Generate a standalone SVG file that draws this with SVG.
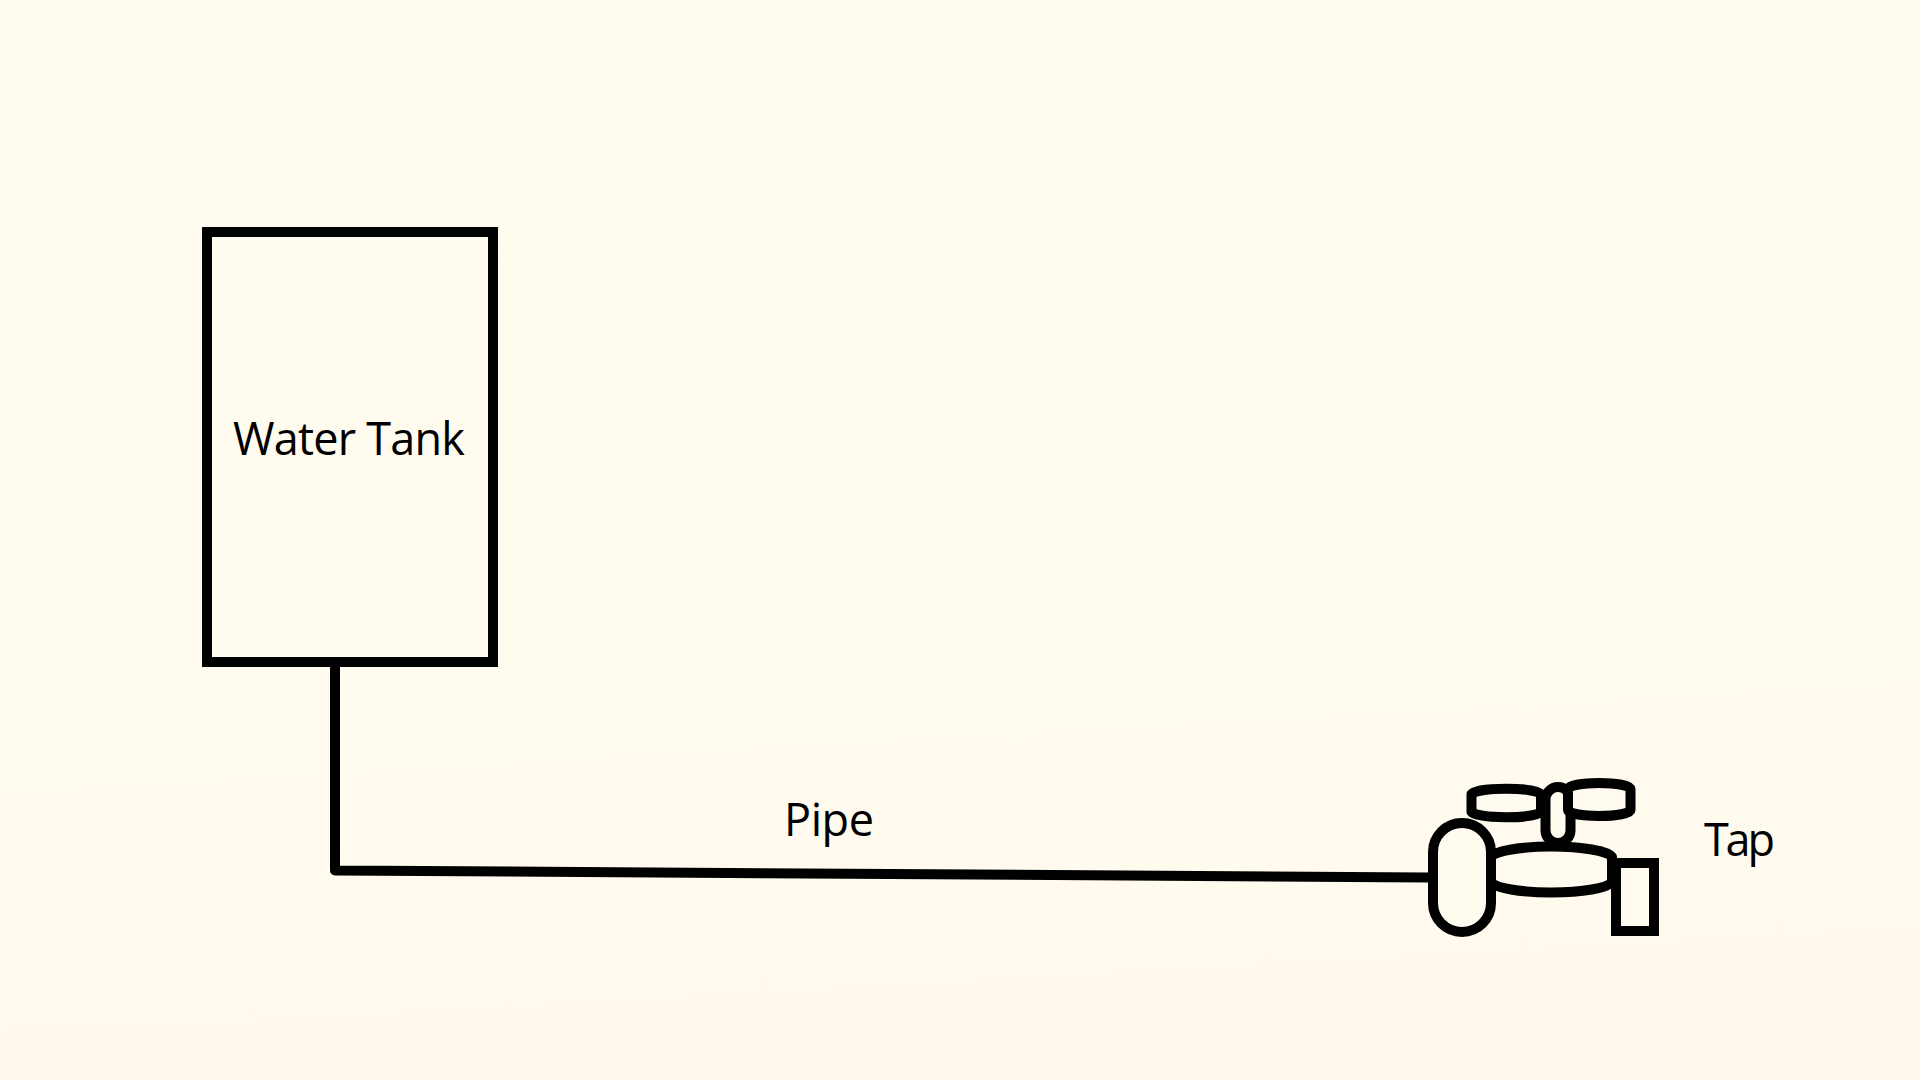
<svg xmlns="http://www.w3.org/2000/svg" width="1920" height="1080" viewBox="0 0 1920 1080">
<style>
.s{fill:none;stroke:#000;stroke-width:10;stroke-linejoin:round}
.f{fill:#FFFBEF;stroke:#000;stroke-width:10;stroke-linejoin:round}
text{font-family:"Open Sans","Noto Sans","Liberation Sans",sans-serif;font-size:45px;font-weight:400;fill:#000}
</style>
<defs><linearGradient id="bg" x1="0" y1="0" x2="0.1" y2="1"><stop offset="0" stop-color="#FFFDF0"/><stop offset="1" stop-color="#FFFAED"/></linearGradient></defs>
<rect width="1920" height="1080" fill="url(#bg)"/>
<g id="connectors">
<path class="s" d="M335 662V870.500L1428 877.500"/>
</g>
<g id="water-tank">
<rect x="207" y="232" width="286" height="430" fill="none" stroke="#000" stroke-width="10"/>
<text x="233" y="455" textLength="232">Water Tank</text>
</g>
<text id="pipe-label" x="784" y="836" textLength="90">Pipe</text>
<g id="tap">
<rect class="f" x="1545.5" y="787" width="25" height="56" rx="12.5"/>
<path class="f" d="M1471.500 794A35 6 0 0 1 1541 794V812A35 6 0 0 1 1471.500 812Z"/>
<path class="f" d="M1568 789A31 6 0 0 1 1630.500 789V810A31 6 0 0 1 1568 810Z"/>
<path class="f" d="M1491 857A61 12 0 0 1 1612 857V882A61 12 0 0 1 1491 882Z"/>
<rect class="f" x="1433" y="823" width="58" height="109" rx="29"/>
<rect x="1616" y="863" width="38" height="68" fill="#FFFBEF" stroke="#000" stroke-width="10"/>
</g>
<text id="tap-label" x="1704" y="856" textLength="71">Tap</text>
</svg>
